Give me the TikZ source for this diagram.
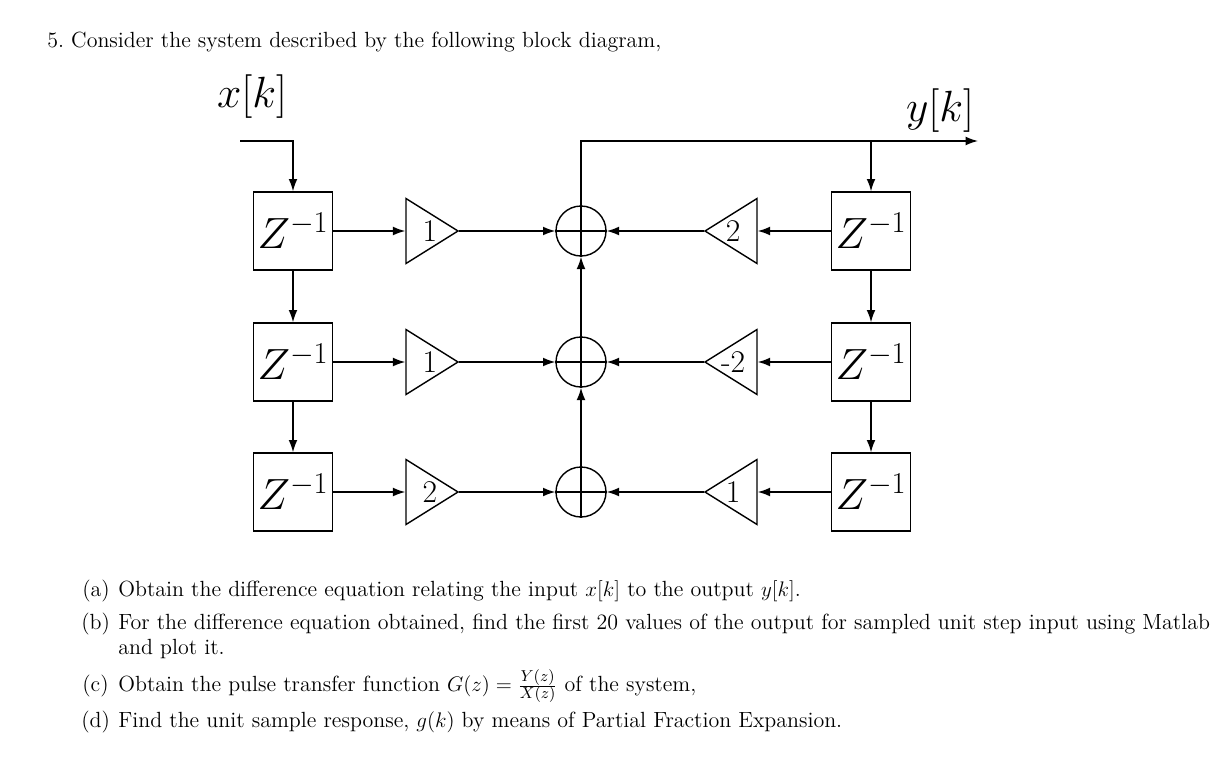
\documentclass[tikz,border=0pt]{standalone}
\usetikzlibrary{arrows.meta,shapes.geometric}
\begin{document}
\begin{tikzpicture}[x=0.02cm,y=-0.02cm,
  box/.style={draw,thick,minimum width=1.58cm,minimum height=1.56cm,inner sep=0pt,font=\fontsize{24}{26}\selectfont},
  sumc/.style={draw,thick,circle,minimum size=1.0cm,inner sep=0pt},
  gr/.style={draw,thick,isosceles triangle,isosceles triangle apex angle=64,minimum height=1.04cm,inner sep=0pt},
  gl/.style={gr,shape border rotate=180},
  ar/.style={thick,-{Latex[length=7pt,width=5pt]}},
  txt/.style={anchor=west,font=\fontsize{12.5}{15}\selectfont,inner sep=0pt}]
\useasboundingbox (0,0) rectangle (1213,781);
\node[txt] (t0) at (47,42) {5.\ Consider the system described by the following block diagram,};
\node[font=\fontsize{26}{28}\selectfont] (xk) at (252,97) {$x[k]$};
\node[font=\fontsize{26}{28}\selectfont] (yk) at (940,111) {$y[k]$};
\foreach \i/\y in {1/231,2/362,3/492}{
  \node[box] (L\i) at (293,\y) {$Z^{-1}$};
  \node[box] (R\i) at (871,\y) {$Z^{-1}$};
  \node[sumc] (S\i) at (581,\y) {};
  \draw[thick] (S\i.north)--(S\i.south) (S\i.west)--(S\i.east);
}
\node[gr] (GL1) at (424,231) {};
\node[gr] (GL2) at (424,362) {};
\node[gr] (GL3) at (424,492) {};
\node[gl] (GR1) at (739,231) {};
\node[gl] (GR2) at (739,362) {};
\node[gl] (GR3) at (739,492) {};
\foreach \n/\t in {GL1/1,GL2/1,GL3/2}{\node[font=\fontsize{18}{20}\selectfont,inner sep=0pt] (l\n) at ([xshift=14]\n.west) {\t};}
\foreach \n/\t in {GR1/2,GR2/-2,GR3/1}{\node[font=\fontsize{18}{20}\selectfont,inner sep=0pt] (l\n) at ([xshift=-14]\n.east) {\t};}
\coordinate (in) at (240,141);
\coordinate (c1) at (293,141);
\coordinate (c2) at (581,141);
\coordinate (c3) at (871,141);
\coordinate (out) at (978,141);
\draw[ar] (in)--(c1)--(L1.north);
\draw[ar] (S1.north)--(c2)--(out);
\draw[ar] (c3)--(R1.north);
\foreach \i in {1,2,3}{
  \draw[ar] (L\i.east)--(GL\i.west);
  \draw[ar] (GL\i.east)--(S\i.west);
  \draw[ar] (R\i.west)--(GR\i.east);
  \draw[ar] (GR\i.west)--(S\i.east);
}
\draw[ar] (L1.south)--(L2.north);
\draw[ar] (L2.south)--(L3.north);
\draw[ar] (R1.south)--(R2.north);
\draw[ar] (R2.south)--(R3.north);
\draw[ar] (S3.north)--(S2.south);
\draw[ar] (S2.north)--(S1.south);
\node[txt] (a1) at (82,591) {(a)};
\node[txt] (a2) at (118,591) {Obtain the difference equation relating the input $x[k]$ to the output $y[k]$.};
\node[txt] (b1) at (81,624) {(b)};
\node[txt] (b2) at (118,624) {For the difference equation obtained, find the first 20 values of the output for sampled unit step input using Matlab};
\node[txt] (b3) at (118,649) {and plot it.};
\node[txt] (c1t) at (82,686) {(c)};
\node[txt] (c2t) at (118,686) {Obtain the pulse transfer function $G(z)=\frac{Y(z)}{X(z)}$ of the system,};
\node[txt] (d1) at (81,722) {(d)};
\node[txt] (d2) at (118,722) {Find the unit sample response, $g(k)$ by means of Partial Fraction Expansion.};
\end{tikzpicture}
\end{document}
